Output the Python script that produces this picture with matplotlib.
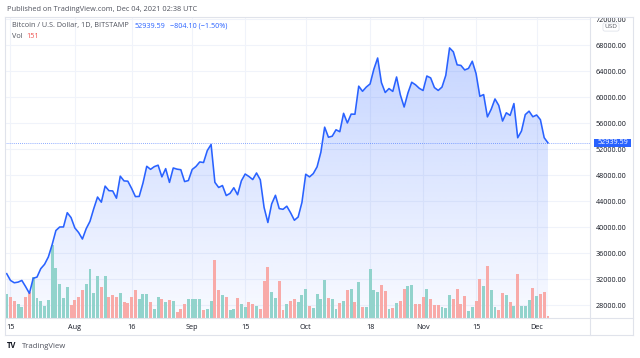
import numpy as np
import pandas as pd
import matplotlib
matplotlib.use("Agg")
import matplotlib.pyplot as plt
import matplotlib.dates as mdates
from matplotlib.transforms import blended_transform_factory, Affine2D, Bbox, TransformedBbox
from matplotlib.patches import Rectangle, Polygon
from matplotlib.lines import Line2D

# ---------------- data ----------------
start_date = "2021-07-14"
close = [
    32820, 31780, 31420, 31520, 31780, 30820, 29790, 32110, 32290, 33590,
    34260, 35390, 37280, 39460, 40000, 40010, 42200, 41450, 39860, 39150,
    38150, 39740, 40870, 42830, 44610, 43820, 46290, 45590, 45550, 44430,
    47820, 47090, 47050, 45940, 44680, 44700, 46760, 49340, 48870, 49290,
    49510, 47710, 48980, 46860, 49080, 48900, 48810, 46990, 47150, 48850,
    49310, 50010, 49920, 51770, 52700, 46870, 46080, 46380, 44840, 45170,
    46040, 44960, 47110, 48150, 47770, 47300, 48310, 47260, 43000, 40690,
    43550, 44880, 42830, 42720, 43200, 42190, 41040, 41540, 43790, 48120,
    47710, 48220, 49260, 51510, 55360, 53810, 53970, 54960, 54660, 57490,
    56010, 57370, 57350, 61670, 60880, 61530, 62010, 64280, 66000, 62210,
    60690, 61300, 60860, 63080, 60330, 58460, 60620, 62270, 61880, 61340,
    61000, 63230, 62940, 61450, 61010, 61530, 63330, 67550, 66950, 64950,
    64860, 64160, 64400, 65500, 63610, 60110, 60370, 56940, 58120, 59700,
    58700, 56300, 57570, 57170, 58990, 53730, 54770, 57290, 57820, 56960,
    57230, 56510, 53740, 52939.59,
]
volume = [
    2130, 1890, 1500, 1230, 990, 1890, 2340, 3690, 1830, 1500,
    1110, 1590, 6540, 4530, 3030, 1800, 2820, 1170, 1590, 1860,
    2490, 3090, 4380, 2250, 3750, 2820, 3780, 1860, 2040, 1920,
    2250, 1440, 1350, 1860, 2520, 1710, 2130, 2190, 1410, 780,
    1860, 1740, 1440, 1590, 1500, 540, 780, 1290, 1710, 1710,
    1710, 1710, 720, 780, 1560, 5190, 2550, 2040, 1860, 720,
    840, 1770, 1290, 990, 1470, 1260, 1110, 780, 3300, 4590,
    2370, 1800, 3330, 720, 1290, 1530, 1740, 1410, 2040, 2640,
    1050, 930, 2130,
    1680, 3390, 1770, 1740, 810, 1320, 1500, 2490, 2580, 1440,
    3210, 990, 990, 4410, 2490, 2340, 3000, 2400, 810, 930,
    1320, 1500, 2640, 2850, 3000, 1230, 1230, 1890, 2580, 1680,
    1170, 1200, 960, 870, 2040, 1680, 2640, 1230, 1950, 630,
    990, 1560, 3540, 2880, 4680, 2520, 960, 690, 2250, 2070,
    1410, 1050, 3960, 1050, 1050, 1590, 2730, 1980, 2130, 2310,
    151,
]
last_price = 52939.59
change = -804.10
change_pct = -1.50
price_ticks = list(range(28000, 72001, 4000))
time_tick_dates = ["2021-07-15", "2021-08-01", "2021-08-16", "2021-09-01", "2021-09-15",
                   "2021-10-01", "2021-10-18", "2021-11-01", "2021-11-15", "2021-12-01"]
time_tick_labels = ["15", "Aug", "16", "Sep", "15", "Oct", "18", "Nov", "15", "Dec"]

# ---------------- style ----------------
W, H = 640, 358
BLUE = "#2962ff"
UP = "#92d3cc"
DOWN = "#f8aaa8"
FRAME = "#e0e3eb"
GRID = "#f0f3fa"
TXT = "#131722"
GRAYTXT = "#50535e"
plt.rcParams['font.family'] = ['Open Sans', 'DejaVu Sans']

def fx(px):
    return px / W

def fy(py):
    return 1 - py / H

fig = plt.figure(figsize=(W / 100, H / 100), dpi=100)
fig.patch.set_facecolor("white")

pane_l, pane_r, pane_t, pane_b = 5, 589.5, 17, 318
ax = fig.add_axes([fx(pane_l), fy(pane_b), fx(pane_r - pane_l), (pane_b - pane_t) / H])
ax.set_facecolor("white")
for s in ax.spines.values():
    s.set_visible(False)

dates = pd.date_range(start_date, periods=len(close), freq="D")
x = mdates.date2num(dates)
ylo, yhi = 26000, 72308
xlo, xhi = x[0] - 0.45, x[0] + 153.97

# grid
tick_x = mdates.date2num(pd.to_datetime(time_tick_dates))
for tx in tick_x:
    ax.axvline(tx, color=GRID, lw=0.8, zorder=0)
for ty in price_ticks:
    ax.axhline(ty, color=GRID, lw=0.8, zorder=0)

# gradient area
rgb = np.array(matplotlib.colors.to_rgb(BLUE))
grad = np.zeros((256, 1, 4))
grad[..., :3] = rgb
grad[..., 3] = np.linspace(0.27, 0.03, 256)[:, None]
pmax = max(close)
im = ax.imshow(grad, extent=[x[0], x[-1], ylo, pmax], aspect="auto", origin="upper",
               zorder=1, interpolation="bilinear")
verts = np.vstack([np.column_stack([x, close]), [[x[-1], ylo], [x[0], ylo]]])
clip = Polygon(verts, closed=True, transform=ax.transData, facecolor="none", edgecolor="none")
im.set_clip_path(clip)

# volume bars on their own scale inside the pane
vol_max = 27090
trans_vol = blended_transform_factory(ax.transData, Affine2D().scale(1, 1 / vol_max) + ax.transAxes)
colors = [UP] + [UP if close[i] >= close[i - 1] else DOWN for i in range(1, len(close))]
ax.bar(x, volume, width=0.78, color=colors, transform=trans_vol, zorder=2, linewidth=0)

# price line
ax.plot(x, close, color=BLUE, lw=1.15, zorder=4, solid_joinstyle="round")
ax.axhline(last_price, color=BLUE, lw=0.6, ls=(0, (1, 1.5)), alpha=0.7, zorder=3)

ax.set_xlim(xlo, xhi)
ax.set_ylim(ylo, yhi)

# axes ticks
ax.yaxis.tick_right()
ax.set_yticks(price_ticks)
ax.set_yticklabels([f"{v:.2f}" for v in price_ticks])
ax.tick_params(axis="y", length=0, pad=4.3, labelsize=5.2, labelcolor=TXT)
clipbox = TransformedBbox(Bbox([[fx(pane_r), fy(pane_b)], [fx(633), fy(pane_t)]]), fig.transFigure)
for lab in ax.get_yticklabels():
    lab.set_clip_box(clipbox)
    lab.set_clip_on(True)
ax.set_xticks(tick_x)
ax.set_xticklabels(time_tick_labels)
ax.tick_params(axis="x", length=0, pad=4.5, labelsize=5.2, labelcolor=TXT)

# last price label on the axis
ytr = ax.get_yaxis_transform()
bx0 = (594 - pane_l) / (pane_r - pane_l)
bx1 = (631 - pane_l) / (pane_r - pane_l)
hh = 4.0 / ((pane_b - pane_t)) * (yhi - ylo)
ax.add_patch(Rectangle((bx0, last_price - hh), bx1 - bx0, 2 * hh, transform=ytr,
                       facecolor=BLUE, edgecolor="none", clip_on=False, zorder=6))
ax.text((bx0 + bx1) / 2, last_price, f"{last_price:.2f}", transform=ytr, color="white",
        fontsize=5.2, ha="center", va="center", zorder=7, clip_on=False)

# frame lines
lines = [
    ((5, 633), (17, 17)), ((5, 633), (335, 335)), ((5, 5), (17, 335)), ((633, 633), (17, 335)),
    ((pane_r, pane_r), (17, 335)), ((5, 633), (pane_b, pane_b)),
]
for (xa, xb), (ya, yb) in lines:
    fig.add_artist(Line2D([fx(xa), fx(xb)], [fy(ya), fy(yb)], color=FRAME, lw=0.8,
                          transform=fig.transFigure))

# USD badge
fig.text(fx(611), fy(27), "USD", fontsize=4.6, color=GRAYTXT, ha="center", va="center",
         bbox=dict(boxstyle="round,pad=0.25,rounding_size=0.3", fc="white", ec=FRAME, lw=0.6))

# header
fig.text(fx(7), fy(9.3), "Published on TradingView.com, Dec 04, 2021 02:38 UTC",
         fontsize=5.3, color=GRAYTXT, va="center", ha="left")
fig.text(fx(12), fy(26), "Bitcoin / U.S. Dollar, 1D, BITSTAMP", fontsize=5.2, color=GRAYTXT,
         va="center", ha="left")
fig.text(fx(135), fy(26), f"{last_price:.2f}", fontsize=5.2, color=BLUE, va="center", ha="left")
fig.text(fx(170), fy(26), f"\u2212{abs(change):.2f} (\u2212{abs(change_pct):.2f}%)", fontsize=5.2,
         color=BLUE, va="center", ha="left")
fig.text(fx(12), fy(36.7), "Vol", fontsize=5.2, color=GRAYTXT, va="center", ha="left")
fig.text(fx(26), fy(36.7), f"{volume[-1]}", fontsize=5.2, color="#ef5350", va="center", ha="left")

# footer logo
fig.text(fx(7), fy(346), "TV", fontsize=5.6, color=TXT, fontweight="bold", va="center", ha="left")
fig.text(fx(21.5), fy(346), "TradingView", fontsize=5.6, color=GRAYTXT, va="center", ha="left")

fig.savefig("out.png", dpi=100, facecolor="white")
